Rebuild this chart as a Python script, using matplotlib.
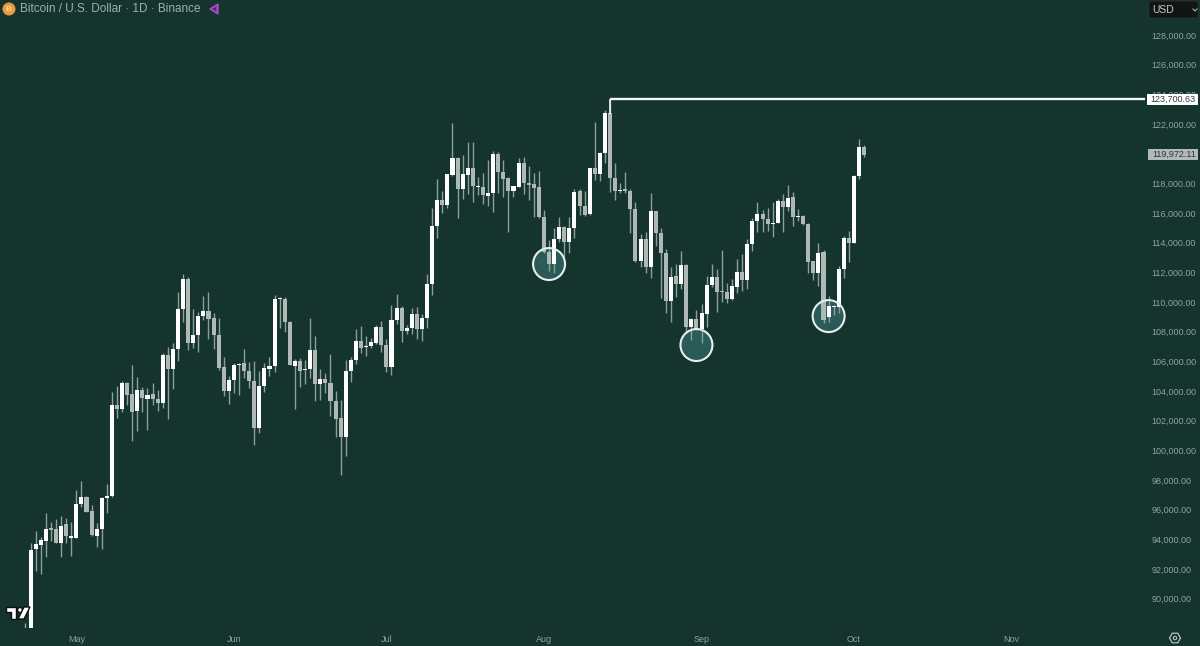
import matplotlib
matplotlib.use("Agg")
import matplotlib.pyplot as plt
import matplotlib.dates as mdates
from matplotlib.patches import Circle, Polygon, FancyBboxPatch, Rectangle
import numpy as np
import pandas as pd

# BTC/USD daily candles, in thousands of dollars
first_day = "2025-04-21"

opens = [87.4, 87.5, 93.35, 93.62, 93.89, 94.74, 94.70, 93.73, 95.01, 94.07,
         94.11, 96.38, 96.88, 95.89, 94.25, 94.68, 96.79, 96.92, 103.03, 102.76,
         104.56, 103.78, 102.67, 104.07, 103.46, 103.78, 103.46, 103.17, 106.43, 105.50,
         106.81, 109.53, 111.55, 107.26, 107.80, 109.05, 109.39, 108.90, 107.77, 105.60,
         104.00, 104.74, 105.73, 105.86, 105.37, 104.70, 101.53, 104.34, 105.50, 105.71,
         110.18, 110.18, 108.63, 105.71, 106.04, 105.44, 105.50, 106.76, 104.45, 104.83,
         104.56, 103.35, 102.16, 100.92, 105.37, 106.09, 107.35, 106.94, 107.05, 107.26,
         108.34, 107.10, 105.64, 108.79, 109.57, 108.02, 108.22, 109.17, 108.20, 108.90,
         111.19, 115.12, 116.87, 116.54, 118.56, 119.73, 117.62, 118.56, 119.05, 117.75,
         117.73, 117.17, 117.32, 119.95, 118.74, 118.33, 117.50, 117.77, 119.39, 118.00,
         117.93, 117.77, 115.71, 113.35, 112.56, 114.24, 115.08, 114.07, 114.96, 117.48,
         116.47, 115.91, 119.01, 118.63, 120.02, 122.76, 118.33, 117.50, 117.59, 117.48,
         116.25, 112.76, 114.25, 112.38, 116.13, 114.63, 113.28, 110.09, 111.75, 111.21,
         112.49, 108.34, 108.83, 108.16, 109.19, 111.14, 111.66, 110.74, 110.65, 110.18,
         111.03, 112.00, 111.48, 113.89, 115.48, 115.93, 115.57, 115.26, 115.35, 116.81,
         116.38, 117.05, 115.71, 115.80, 115.26, 112.76, 111.98, 113.35, 108.96, 109.68,
         109.68, 112.20, 114.29, 114.00, 118.51, 120.47]
highs = [88.34, 93.73, 94.56, 94.18, 95.75, 95.19, 95.35, 95.60, 95.46, 95.19,
         97.33, 97.93, 96.92, 96.32, 95.12, 96.88, 97.73, 103.91, 104.34, 104.70,
         104.63, 105.75, 104.97, 104.29, 104.18, 104.56, 104.07, 106.58, 106.99, 107.26,
         110.65, 111.86, 111.71, 109.50, 109.35, 110.40, 110.65, 109.23, 108.90, 106.31,
         105.01, 105.91, 105.91, 106.83, 105.98, 106.02, 105.37, 105.86, 106.31, 110.47,
         110.31, 110.31, 108.74, 106.13, 106.20, 106.09, 108.90, 107.71, 105.48, 105.19,
         106.47, 104.02, 103.39, 106.09, 106.27, 108.16, 108.38, 107.71, 107.55, 108.45,
         108.74, 107.48, 109.80, 110.54, 109.73, 108.45, 109.62, 109.68, 109.17, 111.89,
         116.36, 118.27, 117.50, 118.63, 122.04, 119.75, 119.91, 120.81, 120.81, 118.40,
         118.67, 119.57, 120.20, 120.13, 119.57, 118.40, 117.82, 119.73, 119.75, 119.17,
         118.72, 118.85, 116.20, 114.18, 114.96, 115.75, 115.12, 115.75, 117.59, 117.59,
         117.50, 119.01, 122.15, 120.13, 122.94, 123.70, 119.35, 118.04, 118.78, 117.59,
         116.76, 114.58, 114.74, 117.32, 116.13, 114.96, 113.57, 112.38, 112.56, 113.46,
         112.54, 108.90, 109.46, 109.86, 111.75, 112.56, 112.20, 113.50, 111.30, 111.55,
         112.87, 113.23, 114.25, 115.64, 116.76, 116.20, 116.31, 116.72, 116.94, 117.28,
         117.90, 117.44, 116.25, 115.86, 115.30, 112.76, 114.00, 113.50, 110.40, 109.80,
         112.43, 114.45, 114.80, 118.56, 120.96, 120.58]
lows = [87.0, 87.3, 91.89, 91.64, 92.79, 93.91, 93.73, 92.83, 93.78, 92.88,
        94.07, 96.16, 95.82, 94.23, 93.51, 93.35, 95.75, 96.88, 102.16, 102.61,
        103.06, 100.63, 101.33, 102.61, 101.37, 103.06, 102.65, 102.83, 102.09, 104.11,
        106.02, 108.67, 106.76, 106.88, 106.65, 108.79, 107.51, 106.81, 105.41, 103.66,
        103.12, 103.89, 103.73, 104.85, 104.22, 100.36, 101.15, 103.95, 105.01, 105.30,
        108.27, 108.00, 105.75, 102.79, 104.29, 104.47, 104.85, 103.33, 103.39, 103.84,
        102.34, 100.92, 98.34, 99.62, 104.63, 105.82, 106.54, 106.36, 106.88, 107.17,
        106.65, 105.26, 105.08, 108.52, 107.28, 107.84, 107.82, 107.48, 107.37, 108.22,
        110.47, 114.34, 116.02, 116.31, 118.49, 115.64, 116.92, 117.26, 116.76, 117.21,
        116.58, 116.49, 116.09, 117.32, 117.10, 114.74, 117.10, 117.73, 117.28, 116.87,
        115.71, 115.64, 113.32, 112.09, 111.93, 114.07, 113.05, 113.32, 114.29, 115.86,
        115.80, 115.86, 118.22, 118.15, 119.35, 117.44, 116.87, 117.32, 117.32, 114.63,
        112.72, 112.34, 111.93, 111.64, 113.77, 110.25, 109.23, 108.67, 110.36, 110.85,
        107.93, 107.44, 108.11, 107.26, 108.29, 111.03, 109.30, 110.02, 109.91, 110.13,
        110.58, 110.74, 110.85, 113.44, 114.74, 114.74, 114.81, 114.36, 115.35, 114.74,
        116.13, 115.14, 115.48, 115.19, 111.98, 111.48, 111.08, 108.60, 108.67, 109.12,
        109.23, 111.59, 112.72, 113.95, 118.27, 119.80]
closes = [87.9, 93.28, 93.69, 93.96, 94.70, 94.63, 93.73, 94.92, 94.25, 94.23,
          96.38, 96.88, 95.87, 94.29, 94.70, 96.79, 96.92, 103.03, 102.76, 104.56,
          103.73, 102.61, 104.07, 103.51, 103.73, 103.46, 103.17, 106.43, 105.50, 106.81,
          109.53, 111.55, 107.26, 107.80, 109.05, 109.39, 108.85, 107.77, 105.57, 104.00,
          104.74, 105.73, 105.82, 105.35, 104.70, 101.53, 104.34, 105.53, 105.71, 110.20,
          110.25, 108.63, 105.75, 106.02, 105.37, 105.50, 106.76, 104.45, 104.79, 104.56,
          103.33, 102.09, 100.92, 105.37, 106.09, 107.35, 106.90, 107.05, 107.28, 108.34,
          107.10, 105.64, 108.79, 109.57, 108.04, 108.25, 109.17, 108.18, 108.90, 111.21,
          115.12, 116.87, 116.54, 118.63, 119.68, 117.62, 118.61, 119.05, 117.82, 117.82,
          117.21, 117.32, 119.97, 118.74, 118.31, 117.50, 117.82, 119.39, 118.04, 117.89,
          117.71, 115.71, 113.39, 112.56, 114.24, 115.08, 114.07, 115.01, 117.44, 116.47,
          115.86, 119.01, 118.63, 120.02, 122.76, 118.38, 117.48, 117.55, 117.48, 116.25,
          112.76, 114.25, 112.38, 116.13, 114.63, 113.28, 110.09, 111.71, 111.21, 112.49,
          108.34, 108.83, 108.16, 109.23, 111.14, 111.71, 110.70, 110.65, 110.18, 111.10,
          112.00, 111.48, 113.91, 115.48, 115.93, 115.57, 115.26, 115.35, 116.81, 116.38,
          117.03, 115.71, 115.80, 115.26, 112.72, 111.98, 113.32, 108.80, 109.73, 109.73,
          112.20, 114.33, 114.00, 118.51, 120.47, 119.91]

# 120,000 sits completely behind the last price tag in the picture
price_ticks = [p for p in range(90000, 130000, 2000) if p != 120000]
month_starts = ["2025-05-01", "2025-06-01", "2025-07-01", "2025-08-01", "2025-09-01", "2025-10-01", "2025-11-01"]
month_labels = ["May", "Jun", "Jul", "Aug", "Sep", "Oct", "Nov"]

ath_price = 123700.63
last_price = 119972.11

# the three swing lows that are circled
circle_days = ["2025-08-02", "2025-08-31", "2025-09-26"]
circle_prices = [112560, 107100, 109050]

bg = "#15342d"
up_color = "#ffffff"
down_color = "#aeb9b6"
wick_color = "#8aa099"
text_gray = "#93a39e"

plt.rcParams['font.family'] = ['Liberation Sans', 'DejaVu Sans']

o = np.array(opens) * 1000
h = np.array(highs) * 1000
l = np.array(lows) * 1000
c = np.array(closes) * 1000
days = mdates.date2num(pd.date_range(first_day, periods=len(o)))

fig = plt.figure(figsize=(12, 6.46), dpi=100, facecolor=bg)
ax = fig.add_axes([0, 18 / 646, 1145 / 1200, 628 / 646], facecolor=bg)

# x: 25 px is the first candle, 5.083 px per day. y: 14.84 px per 1000
ax.set_xlim(days[0] - 25.5 / 5.083, days[0] + (1145 - 25.5) / 5.083)
ax.set_ylim(130355 - 628 * 67.4, 130355)

cx = mdates.date2num(pd.to_datetime(circle_days))
ax.scatter(cx, circle_prices, s=530, facecolor="#2b5b59", edgecolor="none", zorder=1)

up = c >= o
ax.vlines(days, l, h, color=wick_color, lw=1.0, zorder=2)
ax.bar(days[up], c[up] - o[up], bottom=o[up], width=0.8, color=up_color, zorder=3)
ax.bar(days[~up], c[~up] - o[~up], bottom=o[~up], width=0.8, color=down_color, zorder=3)

ax.scatter(cx, circle_prices, s=530, facecolor="none", edgecolor="#e6efec", linewidth=1.5, zorder=4)

# all time high line
ax.hlines(ath_price, days[115], ax.get_xlim()[1], color="#f4f7f6", lw=1.7, zorder=5)
ax.vlines(days[115], ath_price - 1000, ath_price, color="#f4f7f6", lw=1.2, zorder=5)

ax.set_xticks(mdates.date2num(pd.to_datetime(month_starts)), month_labels)
ax.set_yticks(price_ticks, [f"{p:,.2f}" for p in price_ticks])
ax.yaxis.tick_right()
ax.tick_params(axis='x', length=0, pad=5, labelsize=6.5, labelcolor=text_gray)
ax.tick_params(axis='y', length=0, pad=4.5, labelsize=6.5, labelcolor=text_gray)
for s in ax.spines.values():
    s.set_visible(False)

# overlay in image pixels for the header, price tags and logos
ov = fig.add_axes([0, 0, 1, 1], facecolor="none")
ov.set_xlim(0, 1200)
ov.set_ylim(646, 0)
ov.axis('off')

ov.add_patch(Circle((9, 9), 6.5, facecolor="#ee9a3c", edgecolor="none"))
ov.text(9, 9.5, "B", color="#f8dcb4", fontsize=6, fontweight='bold', ha='center', va='center')
ov.text(20.5, 9, "Bitcoin / U.S. Dollar · 1D · Binance", color="#9fb0ab", fontsize=8.5, va='center')
ov.add_patch(Polygon([(210, 9), (218, 4), (218, 14)], closed=True, facecolor="#8a3fae", edgecolor="#a653c9", lw=1))
ov.add_patch(Polygon([(212, 9), (216, 7), (216, 11)], closed=True, facecolor="#3f3350", edgecolor="none"))

# price scale tags
ov.add_patch(FancyBboxPatch((1149, 1), 49, 17, boxstyle="round,pad=0,rounding_size=2", facecolor="#111613", edgecolor="#26332f", lw=0.6))
ov.text(1152, 10, "USD", color="#c4cbc9", fontsize=7.5, va='center')
ov.plot([1193, 1195, 1197], [9, 11, 9], color="#a9b1af", lw=0.8)

ov.add_patch(Rectangle((1147, 94), 51, 11, facecolor="#ffffff", edgecolor="none"))
ov.text(1195, 99.5, f"{ath_price:,.2f}", color="#333b39", fontsize=6.5, ha='right', va='center')
ov.add_patch(Rectangle((1148, 149), 50, 11, facecolor="#b1bab8", edgecolor="none"))
ov.text(1196, 154.5, f"{last_price:,.2f}", color="#2d3634", fontsize=6.5, ha='right', va='center')

# tradingview logo
logo = dict(facecolor="#ffffff", edgecolor="#0b0f0e", lw=1)
ov.add_patch(Polygon([(6, 607), (16, 607), (16, 619), (11, 619), (11, 612), (6, 612)], closed=True, **logo))
ov.add_patch(Circle((20, 610), 2.5, **logo))
ov.add_patch(Polygon([(24, 607), (30, 607), (24, 619), (18, 619)], closed=True, **logo))

# chart settings icon
ang = np.deg2rad(np.arange(0, 360, 60))
ov.add_patch(Polygon(np.column_stack([1175 + 5.5 * np.cos(ang), 638 + 5.5 * np.sin(ang)]), closed=True, facecolor="none", edgecolor="#b7c2bf", lw=0.9))
ov.add_patch(Circle((1175, 638), 1.7, facecolor="none", edgecolor="#b7c2bf", lw=0.8))

fig.savefig("out.png", dpi=100, facecolor=bg)
